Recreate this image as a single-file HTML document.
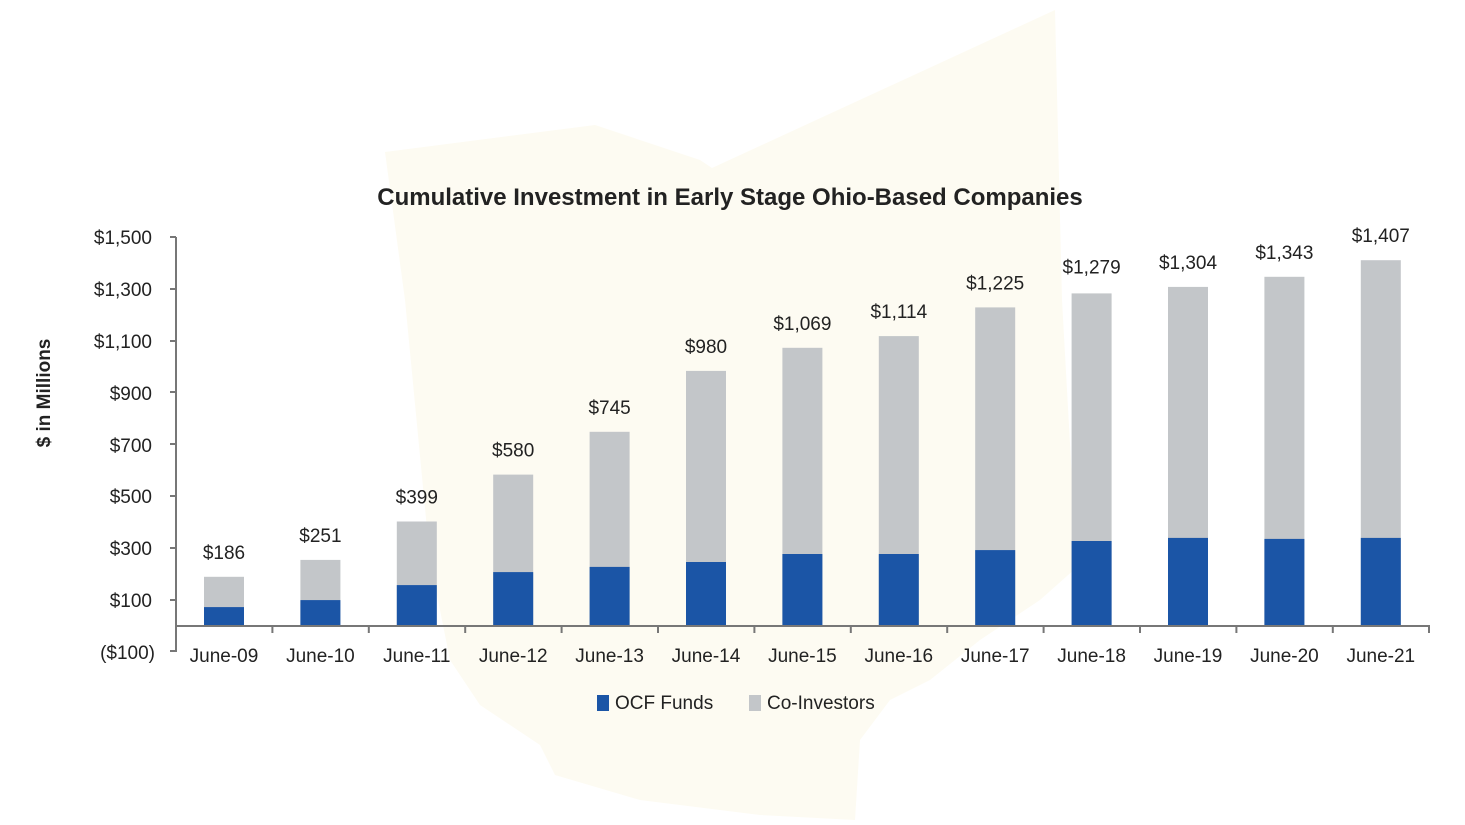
<!DOCTYPE html>
<html><head><meta charset="utf-8"><style>
html,body{margin:0;padding:0;background:#fff;width:1465px;height:825px;overflow:hidden}
svg text{font-family:"Liberation Sans",sans-serif}
</style></head><body>
<svg width="1465" height="825" viewBox="0 0 1465 825">
<polygon fill="#fdfbf2" points="385,152 595,125 700,160 712,168 1055,10 1062,300 1072,480 1085,560 1040,600 980,640 930,680 890,700 860,740 855,820 760,815 640,800 555,775 540,745 480,705 450,660 430,560 405,300"/>
<text x="730" y="205" text-anchor="middle" font-size="24" font-weight="bold" fill="#222">Cumulative Investment in Early Stage Ohio-Based Companies</text>
<text transform="translate(50,393) rotate(-90)" text-anchor="middle" font-size="19" font-weight="bold" fill="#222">$ in Millions</text>
<g font-size="19" fill="#222" text-anchor="end">
<text x="152" y="244">$1,500</text><text x="152" y="296">$1,300</text><text x="152" y="348">$1,100</text>
<text x="152" y="400">$900</text><text x="152" y="452">$700</text><text x="152" y="503">$500</text>
<text x="152" y="555">$300</text><text x="152" y="607">$100</text><text x="155" y="659">($100)</text>
</g>
<g fill="#c3c6c9">
<rect x="204" y="576.8" width="40" height="48.2"/>
<rect x="300.4" y="559.9" width="40" height="65.1"/>
<rect x="396.8" y="521.5" width="40" height="103.5"/>
<rect x="493.2" y="474.6" width="40" height="150.4"/>
<rect x="589.6" y="431.8" width="40" height="193.2"/>
<rect x="686" y="370.9" width="40" height="254.1"/>
<rect x="782.4" y="347.8" width="40" height="277.2"/>
<rect x="878.8" y="336.1" width="40" height="288.9"/>
<rect x="975.2" y="307.4" width="40" height="317.6"/>
<rect x="1071.6" y="293.4" width="40" height="331.6"/>
<rect x="1168" y="286.9" width="40" height="338.1"/>
<rect x="1264.4" y="276.8" width="40" height="348.2"/>
<rect x="1360.8" y="260.2" width="40" height="364.8"/>
</g>
<g fill="#1b55a6">
<rect x="204" y="607.1" width="40" height="17.9"/>
<rect x="300.4" y="600.1" width="40" height="24.9"/>
<rect x="396.8" y="585.1" width="40" height="39.9"/>
<rect x="493.2" y="572.1" width="40" height="52.9"/>
<rect x="589.6" y="566.9" width="40" height="58.1"/>
<rect x="686" y="562" width="40" height="63"/>
<rect x="782.4" y="554" width="40" height="71"/>
<rect x="878.8" y="554" width="40" height="71"/>
<rect x="975.2" y="550.1" width="40" height="74.9"/>
<rect x="1071.6" y="541" width="40" height="84"/>
<rect x="1168" y="537.9" width="40" height="87.1"/>
<rect x="1264.4" y="538.9" width="40" height="86.1"/>
<rect x="1360.8" y="537.9" width="40" height="87.1"/>
</g>
<g stroke="#777" stroke-width="2" fill="none">
<line x1="176" y1="237" x2="176" y2="652"/><line x1="176" y1="626" x2="1430" y2="626"/>
<path d="M170 237H176M170 289H176M170 341H176M170 392H176M170 444H176M170 496H176M170 548H176M170 600H176M170 651H176"/>
<path d="M272.4 626v7M368.8 626v7M465.2 626v7M561.6 626v7M658 626v7M754.4 626v7M850.8 626v7M947.2 626v7M1043.6 626v7M1140 626v7M1236.4 626v7M1332.8 626v7M1429 626v7"/>
</g>
<g font-size="19" fill="#222" text-anchor="middle">
<text x="224" y="559">$186</text>
<text x="320.4" y="542">$251</text>
<text x="416.8" y="503.5">$399</text>
<text x="513.2" y="456.6">$580</text>
<text x="609.6" y="413.8">$745</text>
<text x="706" y="352.9">$980</text>
<text x="802.4" y="329.8">$1,069</text>
<text x="898.8" y="318.1">$1,114</text>
<text x="995.2" y="289.4">$1,225</text>
<text x="1091.6" y="273.4">$1,279</text>
<text x="1188" y="268.9">$1,304</text>
<text x="1284.4" y="258.8">$1,343</text>
<text x="1380.8" y="242.2">$1,407</text>
<text x="224" y="662">June-09</text>
<text x="320.4" y="662">June-10</text>
<text x="416.8" y="662">June-11</text>
<text x="513.2" y="662">June-12</text>
<text x="609.6" y="662">June-13</text>
<text x="706" y="662">June-14</text>
<text x="802.4" y="662">June-15</text>
<text x="898.8" y="662">June-16</text>
<text x="995.2" y="662">June-17</text>
<text x="1091.6" y="662">June-18</text>
<text x="1188" y="662">June-19</text>
<text x="1284.4" y="662">June-20</text>
<text x="1380.8" y="662">June-21</text>
</g>
<rect x="597" y="695" width="12" height="16" fill="#1b55a6"/>
<text x="615" y="709" font-size="19" fill="#222">OCF Funds</text>
<rect x="749" y="695" width="12" height="16" fill="#c3c6c9"/>
<text x="767" y="709" font-size="19" fill="#222">Co-Investors</text>
</svg>
</body></html>
